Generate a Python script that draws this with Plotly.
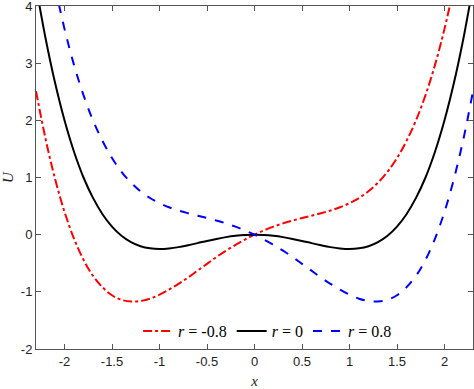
import plotly.graph_objects as go

# x positions (read at 0.1 steps)
x_full = [round(-2.3 + 0.1 * i, 1) for i in range(47)]

# r = -0.8 (red, dash-dot), x from -2.3 to 2.1
x_red = x_full[:45]
u_red = [2.51, 1.68, 0.98, 0.40, -0.07, -0.44, -0.72, -0.92, -1.06, -1.14,
         -1.17, -1.16, -1.12, -1.05, -0.96, -0.86, -0.75, -0.63, -0.51, -0.39,
         -0.28, -0.18, -0.085, 0.0, 0.075, 0.14, 0.197, 0.246, 0.291, 0.332,
         0.375, 0.422, 0.479, 0.55, 0.641, 0.758, 0.909, 1.10, 1.34, 1.64,
         2.00, 2.44, 2.97, 3.60, 4.34]

# r = 0 (black, solid), x from -2.3 to 2.3
x_black = x_full
u_black = [4.35, 3.44, 2.66, 2.00, 1.45, 1.00, 0.643, 0.358, 0.141, -0.02,
           -0.131, -0.202, -0.239, -0.25, -0.241, -0.218, -0.185, -0.148, -0.109, -0.074,
           -0.043, -0.02, -0.005, 0.0, -0.005, -0.02, -0.043, -0.074, -0.109, -0.148,
           -0.185, -0.218, -0.241, -0.25, -0.239, -0.202, -0.131, -0.02, 0.141, 0.358,
           0.643, 1.00, 1.45, 2.00, 2.66, 3.44, 4.35]

# r = 0.8 (blue, dashed), x from -2.1 to 2.3
x_blue = x_full[2:]
u_blue = [4.34, 3.60, 2.97, 2.44, 2.00, 1.64, 1.34, 1.10, 0.909, 0.758,
          0.641, 0.55, 0.479, 0.422, 0.375, 0.332, 0.291, 0.246, 0.197, 0.14,
          0.075, 0.0, -0.085, -0.18, -0.28, -0.39, -0.51, -0.63, -0.75, -0.86,
          -0.96, -1.05, -1.12, -1.16, -1.17, -1.14, -1.06, -0.92, -0.72, -0.44,
          -0.07, 0.40, 0.98, 1.68, 2.51]

labels = ["<i>r</i> = -0.8", "<i>r</i> = 0", "<i>r</i> = 0.8"]
x_ticks = [-2, -1.5, -1, -0.5, 0, 0.5, 1, 1.5, 2]
y_ticks = [-2, -1, 0, 1, 2, 3, 4]

fig = go.Figure()
fig.add_trace(go.Scatter(x=x_red, y=u_red, mode="lines", name=labels[0],
                         line=dict(color="#ff0000", width=2, dash="dashdot", shape="spline")))
fig.add_trace(go.Scatter(x=x_black, y=u_black, mode="lines", name=labels[1],
                         line=dict(color="#000000", width=2, dash="solid", shape="spline")))
fig.add_trace(go.Scatter(x=x_blue, y=u_blue, mode="lines", name=labels[2],
                         line=dict(color="#0000ff", width=2, dash="dash", shape="spline")))

axis_common = dict(showline=True, linecolor="#555555", linewidth=1, mirror="ticks",
                   ticks="inside", ticklen=5, tickcolor="#555555", showgrid=False,
                   zeroline=False, automargin=False, ticklabeloverflow="allow",
                   tickfont=dict(family="Liberation Sans, Arial", size=13, color="#222"))

fig.update_layout(
    width=474, height=389,
    margin=dict(l=36, r=1, t=6, b=40),
    plot_bgcolor="white", paper_bgcolor="white",
    showlegend=True,
    legend=dict(orientation="h", x=0.53, xanchor="center", y=0.052, yanchor="middle",
                bgcolor="rgba(0,0,0,0)", font=dict(family="Liberation Serif, Times New Roman", size=16, color="#000"),
                itemwidth=30, tracegroupgap=0),
    xaxis=dict(range=[-2.3, 2.3], tickvals=x_ticks, ticktext=[str(v) for v in x_ticks],
               title=dict(text="<i>x</i>", font=dict(family="Liberation Serif, Times New Roman", size=15, color="#222"), standoff=8),
               **axis_common),
    yaxis=dict(range=[-2, 4], tickvals=y_ticks, ticktext=[str(v) for v in y_ticks],
               title=dict(text="<i>U</i>", font=dict(family="Liberation Serif, Times New Roman", size=15, color="#222"), standoff=6),
               **axis_common),
)

fig.write_html("out.html", config={"displayModeBar": False},
               post_script="document.body.style.margin='0';document.body.style.overflow='hidden';")
